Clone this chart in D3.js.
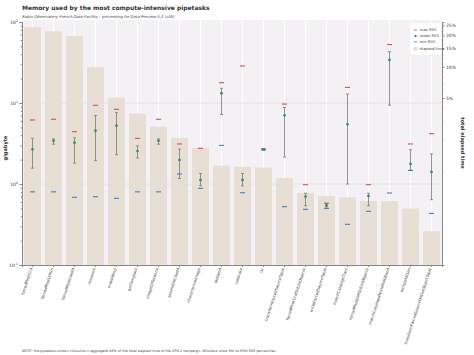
<!DOCTYPE html>
<html><head><meta charset="utf-8">
<script src="https://cdn.jsdelivr.net/npm/d3@7"></script>
<style>body{margin:0;background:#fff}svg{display:block}text{font-family:"DejaVu Sans",sans-serif}</style>
</head><body><svg id="c" width="474" height="355"></svg>
<script>
const categories = ["forcedPhotCcd","forcedPhotDiffim","forcedPhotCoadd","measure","makeWarp","getTemplate","imageDifference","assembleCoadd","characterizeImage","deblend","calibrate","isr","transformForcedSourceTable","forcedPhotCcdOnDiaObjects","writeForcedSourceTable","matchCatalogsTract","forcedPhotDiffOnDiaObjects","matchCatalogsPatchMultiBand","templateGen","transformForcedSourceOnDiaObjectTable"];
const elapsedPct = [23.9,21.9,19.8,9.9,5.04,3.54,2.65,2.07,1.66,1.12,1.09,1.07,0.85,0.61,0.57,0.555,0.512,0.51,0.433,0.262];
const maxRSS  = [6.17,6.3,4.42,9.37,8.36,3.66,6.3,3.12,2.76,17.8,28.6,2.72,9.7,0.98,0.58,15.6,0.98,52.6,3.12,4.18];
const meanRSS = [2.68,3.42,3.24,4.55,5.25,2.55,3.42,1.98,1.12,13.2,1.12,2.68,7.05,0.70,0.545,5.46,0.71,34.0,1.77,1.41];
const minRSS  = [0.80,0.80,0.685,0.697,0.666,0.80,0.80,1.33,0.885,3.0,0.78,2.63,0.525,0.487,0.50,0.318,0.46,0.774,1.47,0.434];
const p95RSS  = [3.66,3.6,3.72,7.0,7.6,2.95,3.6,2.7,1.35,15.2,1.35,2.74,8.8,0.77,0.57,12.9,0.77,43.0,2.65,2.35];
const p5RSS   = [1.57,3.1,1.81,1.94,2.3,2.1,3.1,1.17,0.95,7.2,0.95,2.62,2.15,0.54,0.52,1.0,0.54,9.4,1.48,0.64];
const leftTicks = [0.1,1,10,100];
const rightTickLabels = [5,10,15,20,25];

const svg = d3.select("#c");
const L=22,R=442,T=22,B=265;

// titles
function fit(sel,w){const n=sel.node();let fs=parseFloat(sel.attr("font-size"));const l=n.getComputedTextLength();sel.attr("font-size",fs*w/l);}
fit(svg.append("text").attr("x",22).attr("y",10).attr("font-size",8).attr("font-weight","bold").attr("fill","#333")
  .text("Memory used by the most compute-intensive pipetasks"),188);
fit(svg.append("text").attr("x",22).attr("y",18).attr("font-size",3.6).attr("font-style","italic").attr("fill","#444")
  .text("Rubin Observatory French Data Facility – processing for Data Preview 0.2 (v20)"),153);
fit(svg.append("text").attr("x",22).attr("y",352).attr("font-size",3.6).attr("font-style","italic").attr("fill","#444")
  .text("NOTE: the pipetasks shown consume in aggregate 88% of the total elapsed time of the DP0.2 campaign. Whiskers show 5th to 95th RSS percentiles."),255);

const x = d3.scaleBand().domain(categories).range([L,R]).paddingInner(0.19).paddingOuter(0.095);
const yL = d3.scaleLog().domain([0.1,100]).range([B,T]);
const yR = d3.scaleLog().domain([0.124,26.9]).range([B,T]);

svg.append("rect").attr("x",L).attr("y",T-2).attr("width",R-L).attr("height",B-T+2).attr("fill","#f3f1f4");

// grid
const g = svg.append("g");
g.selectAll("line.v").data(categories).join("line").attr("x1",d=>x(d)+x.bandwidth()/2).attr("x2",d=>x(d)+x.bandwidth()/2)
  .attr("y1",T-2).attr("y2",B).attr("stroke","#ffffff").attr("stroke-width",1);
g.selectAll("line.h").data([1,10]).join("line").attr("x1",L).attr("x2",R).attr("y1",d=>yL(d)).attr("y2",d=>yL(d))
  .attr("stroke","#e2dfe3").attr("stroke-width",0.8);

// bars
svg.append("g").selectAll("rect").data(categories).join("rect")
  .attr("x",d=>x(d)).attr("width",x.bandwidth())
  .attr("y",(d,i)=>yR(elapsedPct[i])).attr("height",(d,i)=>B-yR(elapsedPct[i]))
  .attr("fill","#e8dfd4");

// whiskers
const cx = d=>x(d)+x.bandwidth()/2;
const wk = svg.append("g").attr("stroke","#7a7a7a").attr("stroke-width",0.8);
categories.forEach((c,i)=>{
  wk.append("line").attr("x1",cx(c)).attr("x2",cx(c)).attr("y1",yL(p5RSS[i])).attr("y2",yL(p95RSS[i]));
  [p5RSS[i],p95RSS[i]].forEach(v=>wk.append("line").attr("x1",cx(c)-1.5).attr("x2",cx(c)+1.5).attr("y1",yL(v)).attr("y2",yL(v)));
});
// markers
function dash(arr,col){svg.append("g").selectAll("line").data(categories).join("line")
  .attr("x1",d=>cx(d)-2.5).attr("x2",d=>cx(d)+2.5).attr("y1",(d,i)=>yL(arr[i])).attr("y2",(d,i)=>yL(arr[i]))
  .attr("stroke",col).attr("stroke-width",1.1);}
dash(maxRSS,"#dc4a5a");
dash(minRSS,"#3d7fd0");
svg.append("g").selectAll("circle").data(categories).join("circle")
  .attr("cx",cx).attr("cy",(d,i)=>yL(meanRSS[i])).attr("r",1.4).attr("fill","#2a9a6a");

// axes
const axStyle = s=>{s.select(".domain").attr("stroke","#888");s.selectAll(".tick line").attr("stroke","#888");s.selectAll("text").attr("fill","#333");};
const la = svg.append("g").attr("transform",`translate(${L},0)`)
  .call(d3.axisLeft(yL).tickValues(leftTicks).tickSize(2.5).tickPadding(1.5).tickFormat(()=>""));
la.selectAll(".tick").each(function(d){
  const t=d3.select(this).append("text").attr("x",-4).attr("dy","0.32em").attr("text-anchor","end").attr("font-size",4.5);
  t.append("tspan").text("10");
  t.append("tspan").attr("dy","-0.5em").attr("font-size",3.2).text(Math.round(Math.log10(d)));
});
axStyle(la);
const minorL=[];leftTicks.slice(0,3).forEach(d=>{for(let k=2;k<10;k++)minorL.push(d*k);});
svg.append("g").attr("transform",`translate(${L},0)`).call(d3.axisLeft(yL).tickValues(minorL).tickSize(1.3).tickFormat(""))
  .call(s=>{s.select(".domain").remove();s.selectAll("line").attr("stroke","#888");});

const minorR=d3.range(1,27);
svg.append("g").attr("transform",`translate(${R},0)`).call(d3.axisRight(yR).tickValues(minorR).tickSize(1.3).tickFormat(""))
  .call(s=>{s.selectAll("line").attr("stroke","#888");s.select(".domain").attr("stroke","#888");});
const ra = svg.append("g").attr("transform",`translate(${R},0)`)
  .call(d3.axisRight(yR).tickValues(rightTickLabels).tickSize(2.5).tickPadding(1.5).tickFormat(d=>d+"%"));
ra.selectAll("text").attr("font-size",4.5);
axStyle(ra);

const xa = svg.append("g").attr("transform",`translate(0,${B})`).call(d3.axisBottom(x).tickSize(2).tickFormat(""));
axStyle(xa);
xa.selectAll(".tick").append("text").attr("x",0).attr("y",0).attr("text-anchor","end").attr("font-size",3.9).attr("fill","#444")
  .attr("transform","translate(0,3.5) rotate(-72)").text(d=>d);

// axis titles
svg.append("text").attr("transform","translate(7,148) rotate(-90)").attr("text-anchor","middle").attr("font-size",5).attr("font-weight","bold").attr("fill","#333").text("gigabyte");
svg.append("text").attr("transform","translate(461,143) rotate(90)").attr("text-anchor","middle").attr("font-size",5).attr("font-weight","bold").attr("fill","#333").text("total elapsed time");

// legend
const lg = svg.append("g");
lg.append("rect").attr("x",410).attr("y",23).attr("width",31.5).attr("height",32).attr("fill","#fff").attr("stroke","#eee").attr("stroke-width",0.5);
const items=[{t:"max RSS",k:"dash",c:"#dc4a5a"},{t:"mean RSS",k:"dot",c:"#2a9a6a"},{t:"min RSS",k:"dash",c:"#3d7fd0"},{t:"elapsed time",k:"box",c:"#e8dfd4"}];
const ly=[30,36,42,49];
items.forEach((it,i)=>{
  const yy=ly[i];
  if(it.k==="dash")lg.append("line").attr("x1",414).attr("x2",417).attr("y1",yy).attr("y2",yy).attr("stroke",it.c).attr("stroke-width",0.9);
  else if(it.k==="dot")lg.append("circle").attr("cx",415.5).attr("cy",yy).attr("r",1.2).attr("fill",it.c);
  else lg.append("rect").attr("x",413.5).attr("y",yy-2).attr("width",4).attr("height",4).attr("fill",it.c);
  lg.append("text").attr("x",419.5).attr("y",yy).attr("dy","0.35em").attr("font-size",3.8).attr("fill","#444").text(it.t);
});
</script></body></html>
